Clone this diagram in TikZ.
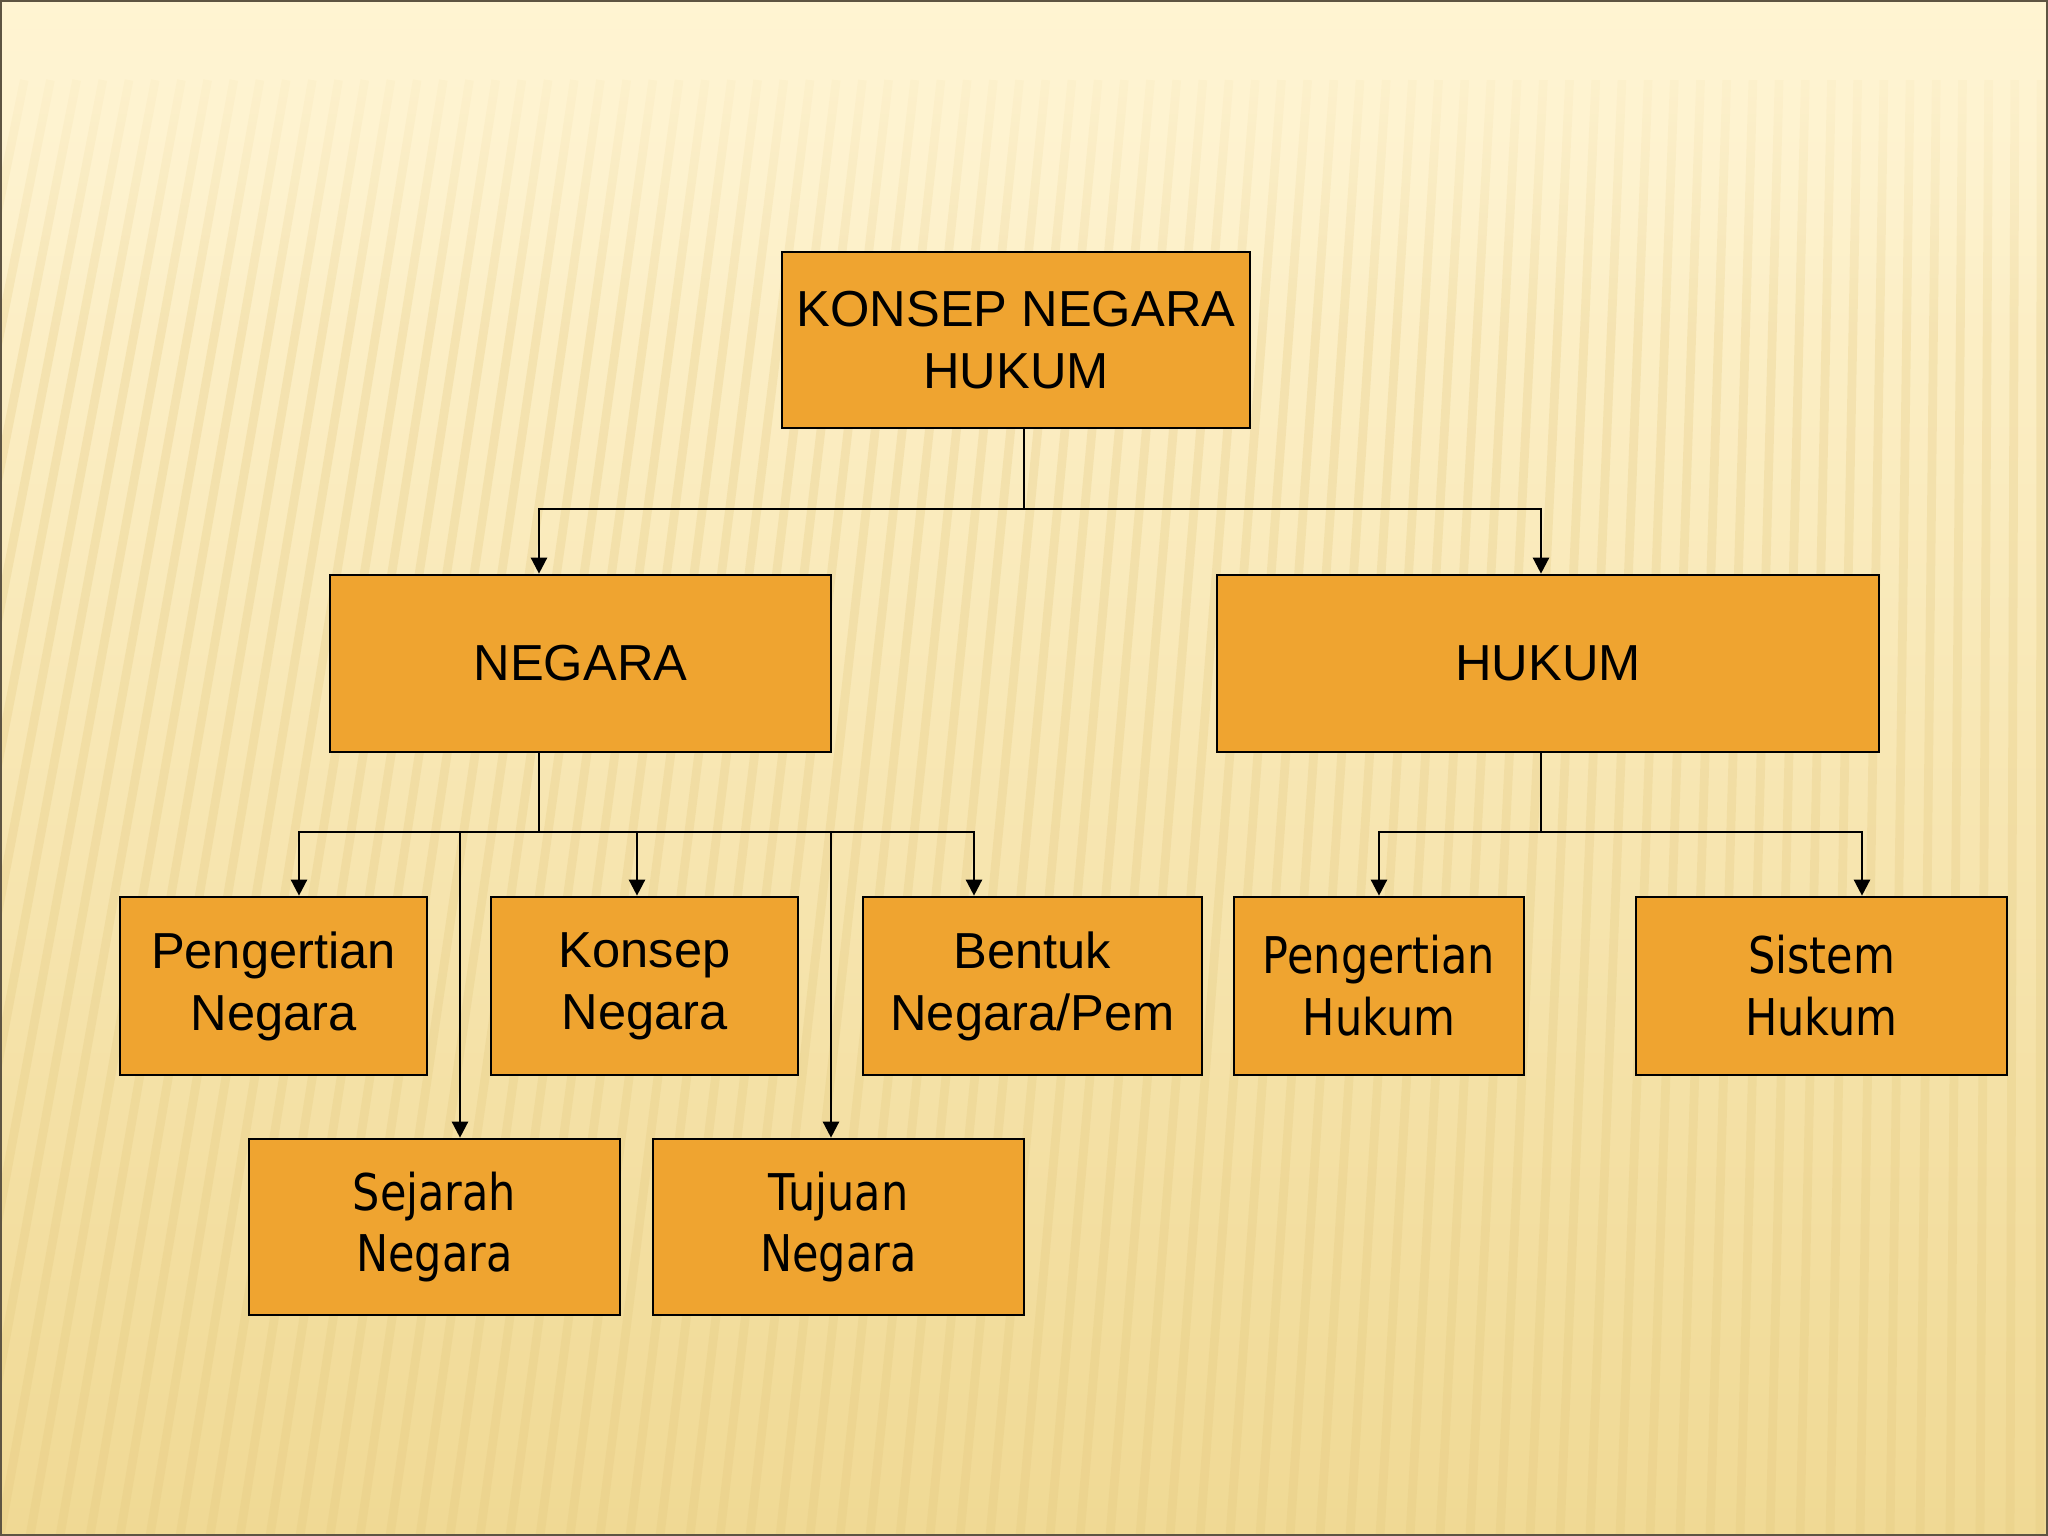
\documentclass[tikz,border=0pt]{standalone}
\usepackage{fontspec}
\setmainfont{Liberation Sans}
\newfontfamily\tahomaish[FakeStretch=0.85]{DejaVu Sans}
\usetikzlibrary{arrows.meta,fadings}
\definecolor{oranye}{HTML}{EFA430}
\definecolor{bgtop}{HTML}{FFF4D2}
\definecolor{bgbot}{HTML}{F0D994}
\definecolor{garis}{HTML}{E3C87E}
\definecolor{bingkai}{HTML}{5E5442}

\begin{document}
\begin{tikzpicture}[y=-1cm,
    kotak/.style={draw=black, line width=0.75pt, fill=oranye, inner sep=0pt, align=center,
        font=\fontsize{14.4}{17.6}\selectfont},
    tahoma/.style={font=\tahomaish\fontsize{14.4}{17.6}\selectfont},
    panah/.style={line width=0.7pt, -{Triangle[length=0.16cm,width=0.16cm]}}]
    % latar
    \useasboundingbox (0,0) rectangle (20.48,15.36);
    \shade[top color=bgtop, bottom color=bgbot] (0,0) rectangle (20.48,15.36);
    \foreach \x in {-3,-2.7,...,21} {
        \draw[garis, line width=2.5pt, opacity=0.28] (\x,15.36) -- ({\x+2.6*(1-\x/20.48)},0.8);
    };
    \fill[bgtop, path fading=south] (0,0) rectangle (20.48,3.4);
    \draw[bingkai, line width=1.2pt] (0,0) rectangle (20.48,15.36);

    \node[kotak, minimum width=4.68cm, minimum height=1.76cm] (top) at (10.16,3.40) {KONSEP NEGARA\\HUKUM};
    \node[kotak, minimum width=5.01cm, minimum height=1.77cm] (negara) at (5.805,6.635) {NEGARA};
    \node[kotak, minimum width=6.62cm, minimum height=1.77cm] (hukum) at (15.48,6.635) {HUKUM};

    \node[kotak, minimum width=3.07cm, minimum height=1.78cm] (pnegara) at (2.735,9.86) {Pengertian\\Negara};
    \node[kotak, minimum width=3.07cm, minimum height=1.78cm] (konsep) at (6.445,9.86) {Konsep\\Negara};
    \node[kotak, minimum width=3.39cm, minimum height=1.78cm] (bentuk) at (10.325,9.86) {Bentuk\\Negara/Pem};
    \node[kotak, tahoma, minimum width=2.90cm, minimum height=1.78cm] (phukum) at (13.79,9.86) {Pengertian\\Hukum};
    \node[kotak, tahoma, minimum width=3.71cm, minimum height=1.78cm] (sistem) at (18.215,9.86) {Sistem\\Hukum};
    \node[kotak, tahoma, minimum width=3.71cm, minimum height=1.76cm] (sejarah) at (4.345,12.27) {Sejarah\\Negara};
    \node[kotak, tahoma, minimum width=3.71cm, minimum height=1.76cm] (tujuan) at (8.385,12.27) {Tujuan\\Negara};

    \coordinate (j0) at (10.24,5.09);
    \coordinate (jn) at (5.39,8.32);
    \coordinate (jh) at (15.41,8.32);

    \draw[line width=0.7pt] (top.south -| j0) -- (j0);
    \draw[panah] (j0) -| (negara.north -| jn);
    \draw[panah] (j0) -| (hukum.north -| jh);

    \draw[line width=0.7pt] (negara.south -| jn) -- (jn);
    \foreach \n/\x in {pnegara/2.99, sejarah/4.60, konsep/6.37, tujuan/8.31, bentuk/9.74} {
        \draw[panah] (jn) -| (\n.north -| \x,0);
    };

    \draw[line width=0.7pt] (hukum.south -| jh) -- (jh);
    \foreach \n/\x in {phukum/13.79, sistem/18.62} {
        \draw[panah] (jh) -| (\n.north -| \x,0);
    };
\end{tikzpicture}
\end{document}
